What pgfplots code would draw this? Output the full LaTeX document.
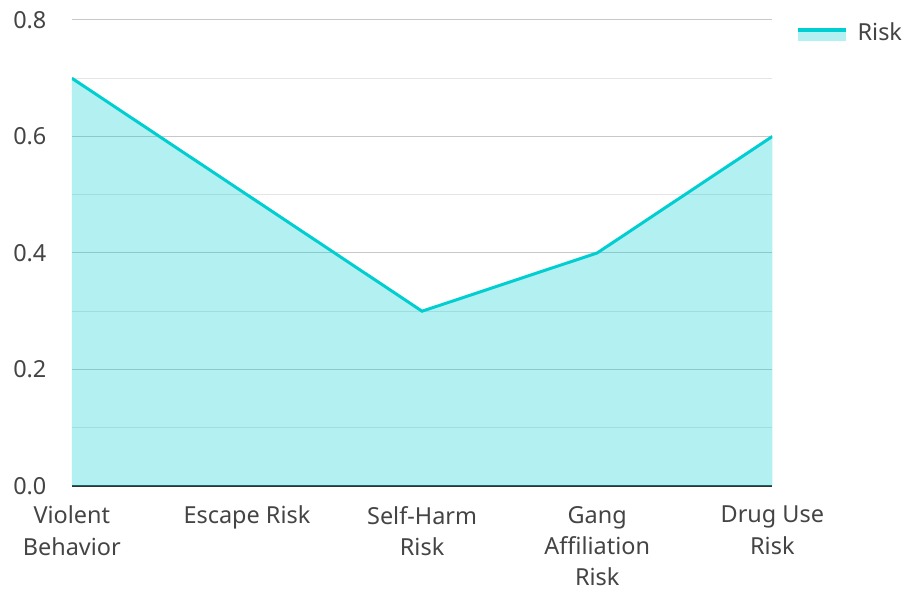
\documentclass[border=0pt]{standalone}
\usepackage{pgfplots}
\pgfplotsset{compat=1.18}
\usepackage{fontspec}
\setmainfont{Noto Sans}
\definecolor{riskc}{HTML}{00CED1}
\definecolor{gridmaj}{HTML}{C8C8C8}
\definecolor{gridmin}{HTML}{E4E4E4}
\definecolor{axc}{HTML}{333333}
\definecolor{txt}{HTML}{444444}
\begin{document}
\begin{tikzpicture}
\begin{axis}[
  name=ax,
  scale only axis,
  width=702pt, height=467pt,
  xmin=0, xmax=4, ymin=0, ymax=0.8,
  xtick={0,1,2,3,4},
  xticklabels={Violent\\Behavior, Escape Risk, Self-Harm\\Risk, Gang\\Affiliation\\Risk, Drug Use\\Risk},
  ytick={0,0.2,0.4,0.6,0.8},
  minor ytick={0.1,0.3,0.5,0.7},
  ymajorgrids, yminorgrids,
  major grid style={draw=gridmaj, line width=1pt},
  minor grid style={draw=gridmin, line width=1pt},
  axis x line*=bottom,
  axis y line*=left,
  y axis line style={draw=none},
  x axis line style={draw=axc, line width=2.2pt, -},
  tick style={draw=none},
  ticklabel style={font=\fontsize{23.5}{31.5}\selectfont, text=txt},
  xticklabel style={align=center, inner ysep=1pt, yshift=-19pt},
  yticklabel style={/pgf/number format/fixed, /pgf/number format/fixed zerofill, /pgf/number format/precision=1, xshift=-22pt},
  /pgf/number format/assume math mode=true,
  legend style={at={(axis description cs:1,1)}, anchor=north west, xshift=21pt, yshift=1pt, draw=none, fill=none, font=\fontsize{23.5}{28}\selectfont, text=txt},
  legend cell align=left,
]
\addplot[fill=riskc, fill opacity=0.3, draw=none, forget plot] coordinates {(0,0.7) (1,0.5) (2,0.3) (3,0.4) (4,0.6)} \closedcycle;
\addplot[riskc, line width=3pt, mark=none,
  legend image code/.code={
    \path[fill=riskc, fill opacity=0.3, draw=none] (0pt,-8pt) rectangle (48pt,3pt);
    \path[draw=riskc, line width=3.5pt] (0pt,3pt) -- (48pt,3pt);
    \path (56pt,0pt);
  }] coordinates {(0,0.7) (1,0.5) (2,0.3) (3,0.4) (4,0.6)};
\addlegendentry{Risk}
\end{axis}
\path[use as bounding box] ([xshift=-72pt,yshift=-104pt]ax.south west) rectangle ([xshift=133pt,yshift=20pt]ax.north east);
\end{tikzpicture}
\end{document}
